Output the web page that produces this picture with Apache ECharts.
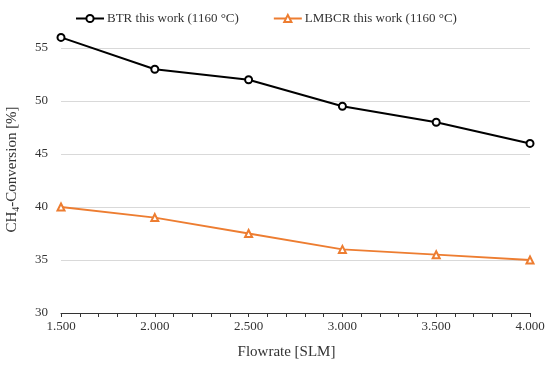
<!DOCTYPE html>
<html><head><meta charset="utf-8">
<script src="https://cdn.jsdelivr.net/npm/echarts@6/dist/echarts.min.js"></script>
<style>html,body{margin:0;padding:0;background:#fff}#c{width:550px;height:365px}</style>
</head><body><div id="c"></div>
<script>
var flowrate = [1.5, 2.0, 2.5, 3.0, 3.5, 4.0];
var btr = [56, 53, 52, 49.5, 48, 46];
var lmbcr = [40, 39, 37.5, 36, 35.5, 35];
var seriesNames = ['BTR this work (1160 °C)', 'LMBCR this work (1160 °C)'];
var font = 'Liberation Serif';
var chart = echarts.init(document.getElementById('c'));
chart.setOption({
  animation: false,
  legend: {
    top: 7, left: 70, itemGap: 34, itemWidth: 28, itemHeight: 9,
    textStyle: {fontFamily: font, fontSize: 13, color: '#333', padding: [0, 0, 0, -2]},
    data: seriesNames
  },
  grid: {left: 61, right: 20, top: 48, bottom: 52, outerBoundsMode: 'none', containLabel: false},
  xAxis: {
    type: 'value', min: 1.5, max: 4, interval: 0.5,
    name: 'Flowrate [SLM]', nameLocation: 'middle', nameGap: 32,
    nameTextStyle: {fontFamily: font, fontSize: 15, color: '#333', padding: [0, 18, 0, 0]},
    axisLine: {lineStyle: {color: '#333', width: 1}},
    axisTick: {show: true, length: 4, lineStyle: {color: '#333'}},
    minorTick: {show: true, splitNumber: 5, length: 4, lineStyle: {color: '#333'}},
    splitLine: {show: false},
    axisLabel: {fontFamily: font, fontSize: 13, color: '#333', margin: 7,
      formatter: function (v) { return v.toFixed(3); }}
  },
  yAxis: {
    type: 'value', min: 30, max: 55, interval: 5,
    name: '{a|CH}{s|4}{a|-Conversion [%]}', nameLocation: 'middle', nameGap: 40,
    nameTextStyle: {padding: [0, 0, 0, 22], rich: {
      a: {fontFamily: font, fontSize: 15, color: '#333'},
      s: {fontFamily: font, fontSize: 10, color: '#333', verticalAlign: 'bottom', padding: [7, 0, 0, 0]}
    }},
    axisLine: {show: false}, axisTick: {show: false},
    splitLine: {lineStyle: {color: '#d9d9d9', width: 1}},
    axisLabel: {fontFamily: font, fontSize: 13, color: '#333', margin: 13}
  },
  series: [
    {
      name: seriesNames[0], type: 'line', clip: false,
      data: flowrate.map(function (x, i) { return [x, btr[i]]; }),
      symbol: 'emptyCircle', symbolSize: 7,
      lineStyle: {color: '#000', width: 2},
      itemStyle: {color: '#000', borderColor: '#000', borderWidth: 1.5}
    },
    {
      name: seriesNames[1], type: 'line', clip: false,
      data: flowrate.map(function (x, i) { return [x, lmbcr[i]]; }),
      symbol: 'emptyTriangle', symbolSize: 7,
      lineStyle: {color: '#ED7D31', width: 1.8},
      itemStyle: {color: '#ED7D31', borderColor: '#ED7D31', borderWidth: 1.3}
    }
  ]
});
</script></body></html>
